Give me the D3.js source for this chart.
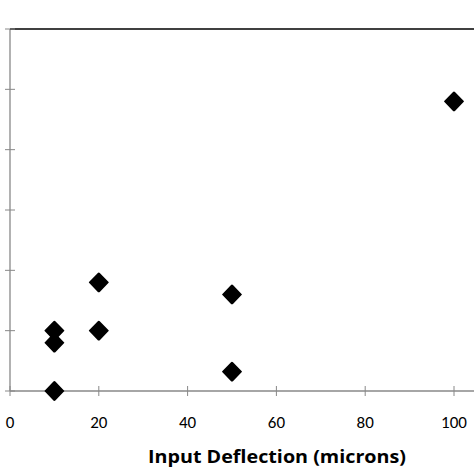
<!DOCTYPE html><html><head><script src="https://cdn.jsdelivr.net/npm/d3@7"></script>
<style>body{margin:0;background:#fff}</style></head><body><svg id="c" width="474" height="474"></svg>
<script>
const xVals=[10,10,10,20,20,50,50,100];
const yVals=[0,0.8,1.0,1.0,1.8,1.6,0.32,4.8];
const xTicks=[0,20,40,60,80,100];
const yTicks=[0,1,2,3,4,5,6];
const svg=d3.select("#c");
const x=d3.scaleLinear().domain([0,100]).range([10,454]);
const y=d3.scaleLinear().domain([0,6]).range([391,29]);
const g=svg.append("g");
g.append("line").attr("x1",x(0)).attr("x2",474).attr("y1",y(0)).attr("y2",y(0)).attr("stroke","#888").attr("stroke-width",1.3);
g.append("line").attr("x1",x(0)).attr("x2",x(0)).attr("y1",y(0)).attr("y2",y(6)).attr("stroke","#888").attr("stroke-width",1.3);
g.append("line").attr("x1",x(0)).attr("x2",474).attr("y1",y(6)).attr("y2",y(6)).attr("stroke","#000").attr("stroke-width",1.3);
yTicks.forEach(t=>g.append("line").attr("x1",x(0)-5).attr("x2",x(0)+5).attr("y1",y(t)).attr("y2",y(t)).attr("stroke","#888"));
xTicks.forEach(t=>{g.append("line").attr("x1",x(t)).attr("x2",x(t)).attr("y1",y(0)-5).attr("y2",y(0)+5).attr("stroke","#888");
 g.append("text").attr("x",x(t)).attr("y",428).attr("text-anchor","middle").attr("font-family","Carlito, Calibri, 'Open Sans', sans-serif").attr("font-size",17).attr("fill","#000").text(t);});
svg.append("text").attr("x",277).attr("y",463).attr("text-anchor","middle").attr("font-family","'Open Sans', sans-serif").attr("font-weight","bold").attr("font-size",17).attr("textLength",258).attr("lengthAdjust","spacingAndGlyphs").text("Input Deflection (microns)");
const sym=d3.symbol().type(d3.symbolDiamond).size(120);
svg.selectAll("path.p").data(xVals.map((v,i)=>[v,yVals[i]])).enter().append("path").attr("class","p")
 .attr("d",sym).attr("transform",d=>`translate(${x(d[0])},${y(d[1])}) scale(1.5,0.9)`).attr("fill","#000").attr("stroke","#000").attr("stroke-width",1.5).attr("stroke-linejoin","round");
</script></body></html>
